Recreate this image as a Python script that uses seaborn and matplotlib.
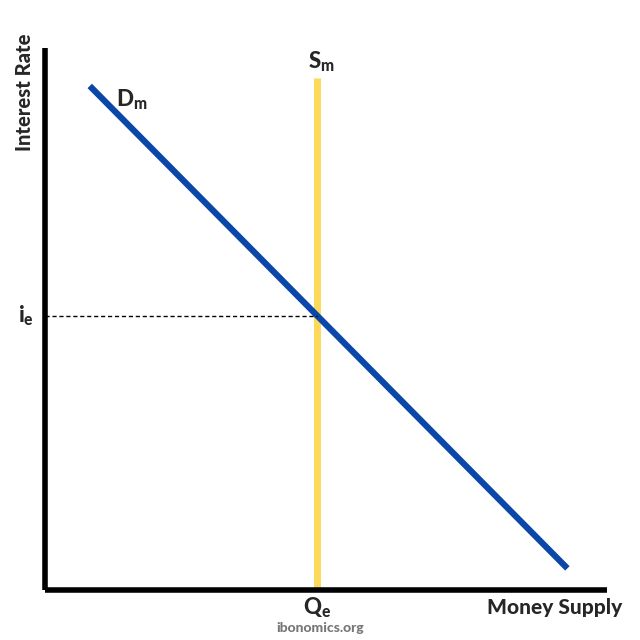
import matplotlib.pyplot as plt
import pandas as pd
import seaborn as sns

# Curve data (axis units 0-10)
demand_x = [0.8, 9.3]
demand_y = [9.3, 0.4]
supply_x = [4.85, 4.85]
supply_y = [0.0, 9.45]
q_e = 4.85
i_e = demand_y[0] + (demand_y[1] - demand_y[0]) / (demand_x[1] - demand_x[0]) * (q_e - demand_x[0])

sns.set_style("white")
plt.rcParams["font.family"] = ["Lato", "DejaVu Sans"]
plt.rcParams["mathtext.fontset"] = "custom"
plt.rcParams["mathtext.bf"] = "Lato:black"
plt.rcParams["mathtext.rm"] = "Lato:black"

df_d = pd.DataFrame({"x": demand_x, "y": demand_y})
df_s = pd.DataFrame({"x": supply_x, "y": supply_y})

fig = plt.figure(figsize=(6.4, 6.4), dpi=100)
ax = fig.add_axes([0.07, 0.078, 0.878, 0.847])

sns.lineplot(data=df_s, x="x", y="y", ax=ax, orient="y", color="#fcd95a", linewidth=5, solid_capstyle="butt")
sns.lineplot(data=df_d, x="x", y="y", ax=ax, color="#0a47a9", linewidth=4.5, solid_capstyle="butt")
ax.plot([0, q_e], [i_e, i_e], color="black", linestyle=(0, (3, 2)), linewidth=1)

ax.set_xlim(0, 10)
ax.set_ylim(0, 10)
ax.set_xticks([])
ax.set_yticks([])
ax.set_xlabel("")
ax.set_ylabel("")
for side in ["top", "right"]:
    ax.spines[side].set_visible(False)
for side in ["left", "bottom"]:
    ax.spines[side].set_linewidth(4)
    ax.spines[side].set_color("black")
    ax.spines[side].set_capstyle("butt")

ax.text(1.55, 9.05, r"$\mathbf{D_m}$", fontsize=16, ha="center", va="center")
ax.text(4.92, 9.75, r"$\mathbf{S_m}$", fontsize=16, ha="center", va="center")
ax.text(-0.33, i_e, r"$\mathbf{i_e}$", fontsize=16, ha="center", va="center")
ax.text(q_e, -0.32, r"$\mathbf{Q_e}$", fontsize=16, ha="center", va="center")
ax.text(10.28, -0.32, "Money Supply", fontsize=15, fontweight="black", ha="right", va="center")
ax.text(-0.37, 9.19, "Interest Rate", fontsize=14.5, fontweight="black", ha="center", va="center", rotation=90)
fig.text(0.5, 0.019, "ibonomics.org", fontsize=10, fontweight="black", color="#777777", ha="center", va="center")

fig.savefig("out.png", dpi=100)
